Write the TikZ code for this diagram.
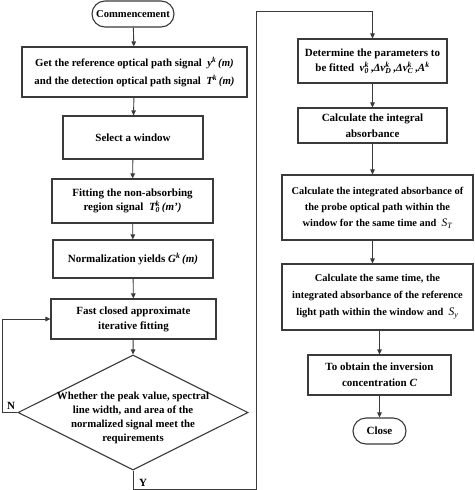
\documentclass[tikz,border=0pt]{standalone}
\usepackage{fontspec}
\setmainfont{Liberation Serif}
\usetikzlibrary{arrows.meta,shapes.geometric}
\newcommand\sps[1]{\textsuperscript{\itshape #1}}
\newcommand\sbs[2]{\rlap{\textsuperscript{\itshape #1}}\textsubscript{\itshape #2}}
\newcommand\fs[2]{\fontsize{#1}{#2}\selectfont}
\definecolor{ln}{HTML}{3A3A3A}
\tikzset{
  every node/.style={font=\bfseries\fs{11}{15}, text=black},
  box/.style={draw=ln, line width=1.1pt, inner sep=0pt, align=center},
  term/.style={draw=ln, line width=1.1pt, inner sep=0pt, rounded corners=13pt, align=center},
  arr/.style={draw=ln, line width=0.9pt, -{Triangle[length=5pt,width=4.5pt]}},
  lab/.style={inner sep=0pt}
}
\begin{document}
\begin{tikzpicture}[x=1pt,y=-1pt]
\useasboundingbox[fill=white] (0,0) rectangle (474,490);
% left column
\node[term, minimum width=82pt, minimum height=26pt, font=\bfseries\fs{10.6}{14}] (start) at (133,14) {Commencement};
\node[box, minimum width=225pt, minimum height=50pt, font=\bfseries\fs{10.8}{18}] (b1) at (134.5,72)
  {Get the reference optical path signal \ {\itshape y}\sps{k}\,{\itshape(m)}\\and the detection optical path signal \ {\itshape T}\sps{k}\,{\itshape(m)}};
\node[box, minimum width=140pt, minimum height=43pt] (b2) at (133,137.5) {Select a window};
\node[box, minimum width=161pt, minimum height=44pt, font=\bfseries\fs{11}{14.5}] (b3) at (132.5,201)
  {Fitting the non-absorbing\\region signal \ {\itshape T}\sbs{k}{0}\,{\itshape(m')}};
\node[box, minimum width=160pt, minimum height=38pt] (b4) at (133,259) {Normalization yields {\itshape G}\sps{k}\,{\itshape(m)}};
\node[box, minimum width=165pt, minimum height=40pt] (b5) at (133.5,319) {Fast closed approximate\\iterative fitting};
\node[draw=ln, line width=1.1pt, diamond, inner sep=0pt, minimum width=230pt, minimum height=115pt] (dec) at (133,412.5) {};
\node[lab, align=center, font=\bfseries\fs{10.8}{14}] (dectxt) at (133,418)
  {Whether the peak value, spectral\\line width, and area of the\\normalized signal meet the\\requirements};
\node[lab] (nlab) at (11,406) {N};
\node[lab] (ylab) at (143,483) {Y};
% right column
\node[box, minimum width=149pt, minimum height=44pt] (det) at (372.5,61)
  {Determine the parameters to\\be fitted \ {\itshape v}\sbs{k}{0}\,,{\itshape Δv}\sbs{k}{D}\,,{\itshape Δv}\sbs{k}{C}\,,{\itshape A}\sps{k}};
\node[box, minimum width=149pt, minimum height=35pt, font=\bfseries\fs{11}{16.5}] (integ) at (372.5,125.5) {Calculate the integral\\absorbance};
\node[box, minimum width=191pt, minimum height=65pt, font=\bfseries\fs{10.4}{16}] (probe) at (377.5,207.5)
  {Calculate the integrated absorbance of\\the probe optical path within the\\window for the same time and \ {\mdseries\itshape\fs{11.5}{16}S\textsubscript{T}}};
\node[box, minimum width=191pt, minimum height=66pt, font=\bfseries\fs{10.4}{17}] (same) at (377.5,297)
  {Calculate the same time, the\\integrated absorbance of the reference\\light path within the window and \ {\mdseries\itshape\fs{11.5}{17}S\textsubscript{y}}};
\node[box, minimum width=143pt, minimum height=40pt, font=\bfseries\fs{11}{16}] (obt) at (379.5,375) {To obtain the inversion\\concentration {\itshape C}};
\node[term, minimum width=53pt, minimum height=26pt] (close) at (379.5,431) {Close};
% helper coordinates
\coordinate (lx) at (2.5,0);
\coordinate (by) at (0,489);
\coordinate (rx) at (256.5,0);
\coordinate (ty) at (0,11);
% connectors
\draw[arr] (start) -- (b1);
\draw[arr] (b1) -- (b2);
\draw[arr] (b2) -- (b3);
\draw[arr] (b3) -- (b4);
\draw[arr] (b4) -- (b5);
\draw[arr] (b5) -- (dec.north);
\draw[arr] (dec.west) -- (dec.west -| lx) |- (b5.west);
\draw[arr] (dec.south) -- (dec.south |- by) -- (rx |- by) -- (rx |- ty) -| (det.north);
\draw[arr] (det) -- (integ);
\draw[arr] (integ) -- (probe.north -| integ.south);
\draw[arr] (probe.south -| integ.south) -- (same.north -| integ.south);
\draw[arr] (same.south -| obt.north) -- (obt);
\draw[arr] (obt) -- (close);
\end{tikzpicture}
\end{document}
